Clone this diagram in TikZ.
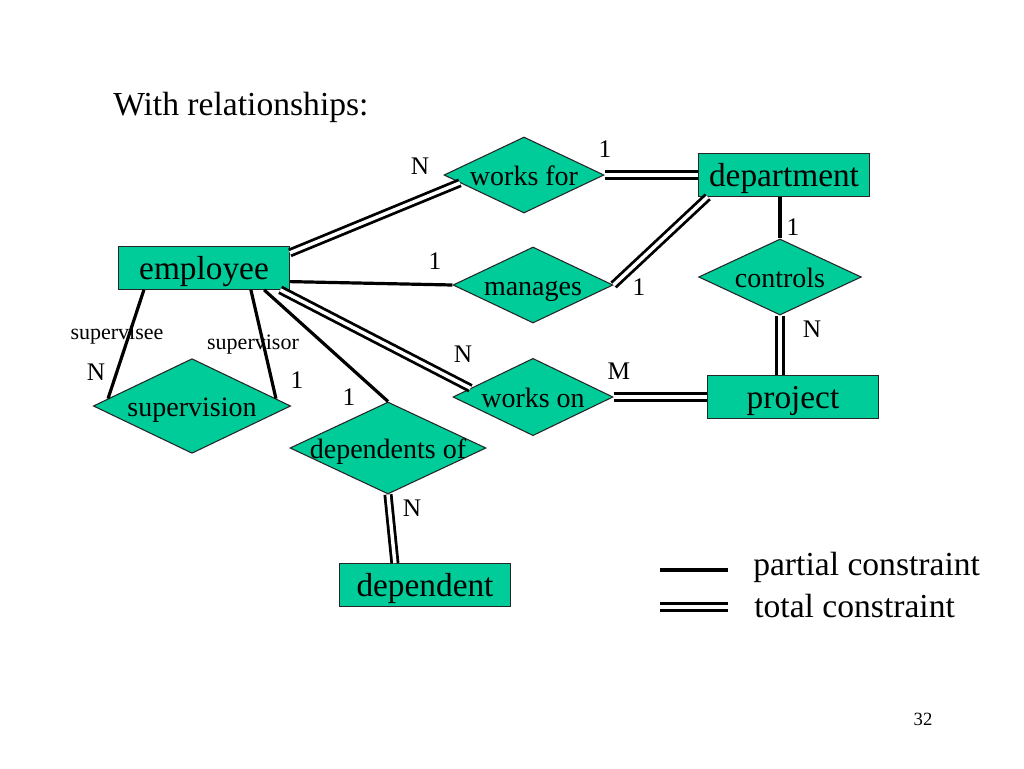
\documentclass[tikz,border=0pt]{standalone}
\usepackage{fontspec}
\setmainfont{Liberation Serif}
\usepackage{tikz}
\usetikzlibrary{positioning}
\usetikzlibrary{shapes.geometric}
\definecolor{erteal}{RGB}{0,204,153}
\tikzset{entity node/.style={rectangle,fill=erteal,draw=black!85,line width=0.8pt,minimum width=128pt,minimum height=32pt,inner sep=0pt,text height=17pt,text depth=0pt,font=\fontsize{25}{30}\selectfont},
rel node/.style={diamond,fill=erteal,draw=black!85,line width=0.8pt,aspect=2,inner sep=-15pt,text height=15pt,text depth=0pt,font=\fontsize{21}{25}\selectfont},
card node/.style={inner sep=0pt,font=\fontsize{19}{23}\selectfont},
role node/.style={inner sep=0pt,font=\fontsize{16.5}{20}\selectfont},
big text/.style={inner sep=0pt,font=\fontsize{25.2}{30}\selectfont},
partial/.style={draw,line width=2.4pt},
total/.style={draw,double,line width=2.1pt,double distance=2.6pt},}

\begin{document}
\begin{tikzpicture}[x=0.75pt,y=-0.75pt]
    \useasboundingbox (0,0) rectangle (1024,768);
    \node[big text,anchor=base west] (title) at (113,115) {With relationships:};

    \node[entity node] (employee) at (204,268) {employee};
    \node[entity node] (department) at (784,175) {department};
    \node[entity node] (project) at (793,397) {project};
    \node[entity node] (dependent) at (425,585) {dependent};

    \node[rel node,minimum width=120pt,minimum height=57pt] (worksfor) at (524,175) {works for};
    \node[rel node,minimum width=120pt,minimum height=57pt] (manages) at (533,285) {manages};
    \node[rel node,minimum width=122pt,minimum height=57pt] (controls) at (780,277) {controls};
    \node[rel node,minimum width=120pt,minimum height=58pt] (workson) at (533,397) {works on};
    \node[rel node,minimum width=148pt,minimum height=71pt] (supervision) at (192,406) {supervision};
    \node[rel node,minimum width=147pt,minimum height=69pt] (depof) at (388,448) {dependents of};

    \path
    (employee.10) edge[total] (worksfor.187)
    (employee.-9) edge[partial] (manages.west)
    (employee.-16) edge[total] (workson.172)
    (employee.-20) edge[partial] (depof.north)
    (employee.200) edge[partial] (supervision.175)
    (employee.-25) edge[partial] (supervision.5)
    (worksfor.east) edge[total] (department.west)
    (manages.east) edge[total] (department.196)
    (department.south -| controls.north) edge[partial] (controls.north)
    (controls.south) edge[total] (controls.south |- project.north)
    (workson.east) edge[total] (project.west)
    (depof.south) edge[total] (dependent.144);

    \node[card node] (nwf) at (420,166) {N};
    \node[card node] (owf) at (605,149) {1};
    \node[card node] (oma) at (435,261) {1};
    \node[card node] (omb) at (639,287) {1};
    \node[card node] (oco) at (793,227) {1};
    \node[card node] (nco) at (812,329) {N};
    \node[card node] (nwo) at (463,354) {N};
    \node[card node] (mwo) at (619,371) {M};
    \node[card node] (nsu) at (96,372) {N};
    \node[card node] (osu) at (297,380) {1};
    \node[card node] (ode) at (349,397) {1};
    \node[card node] (nde) at (412,508) {N};
    \node[role node] (supervisee) at (117,335) {supervisee};
    \node[role node] (supervisor) at (253,345) {supervisor};

    \coordinate (pa) at (660,570);
    \coordinate (pb) at (728,570);
    \coordinate (ta) at (660,607);
    \coordinate (tb) at (728,607);
    \path (pa) edge[partial] (pb)
    (ta) edge[total] (tb);
    \node[big text,anchor=base west] (partlab) at (753,575) {partial constraint};
    \node[big text,anchor=base west] (totlab) at (754,617) {total constraint};
    \node[inner sep=0pt,anchor=base,font=\fontsize{14}{17}\selectfont] (pagenum) at (923,725) {32};
\end{tikzpicture}
\end{document}
